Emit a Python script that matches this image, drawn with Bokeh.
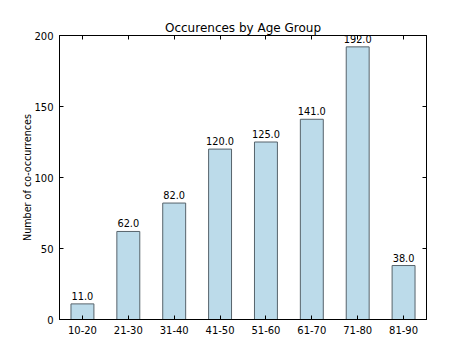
from bokeh.plotting import figure
from bokeh.models import ColumnDataSource, FactorRange, Range1d, LinearAxis, CategoricalAxis, FixedTicker
from bokeh.core.properties import value
from bokeh.embed import file_html
from bokeh.resources import INLINE

age_groups = ["10-20", "21-30", "31-40", "41-50", "51-60", "61-70", "71-80", "81-90"]
counts = [11, 62, 82, 120, 125, 141, 192, 38]
y_ticks = [0, 50, 100, 150, 200]

FONT = "DejaVu Sans"

src = ColumnDataSource(dict(x=age_groups, y=counts, lab=["%.1f" % c for c in counts]))

p = figure(width=474, height=355, x_range=FactorRange(*age_groups, range_padding=0),
           y_range=Range1d(0, 200), output_backend="svg", toolbar_location=None,
           min_border_left=59, min_border_right=48, min_border_top=35, min_border_bottom=36)

p.title.text = "Occurences by Age Group"
p.title.align = "center"
p.title.text_font = FONT
p.title.text_font_size = "12px"
p.title.text_font_style = "normal"
p.title.text_color = "black"
p.title.standoff = 2

p.vbar(x="x", top="y", width=0.5, source=src, fill_color="#bcdbea",
       line_color="#56636b", line_width=1)
p.text(x="x", y="y", text="lab", source=src, text_align="center", text_baseline="bottom",
       y_offset=-4, text_font=value(FONT), text_font_size="9.8px", text_color="black")

p.xgrid.visible = False
p.ygrid.visible = False
p.outline_line_color = "black"
p.outline_line_width = 1
p.background_fill_color = "white"
p.border_fill_color = "white"

def style(ax, labels=True):
    ax.major_tick_in = 4
    ax.major_tick_out = 0
    ax.minor_tick_in = 0
    ax.minor_tick_out = 0
    ax.axis_line_color = "black"
    ax.major_tick_line_color = "black"
    ax.major_label_text_font = FONT
    ax.major_label_text_font_size = "10px"
    ax.major_label_text_color = "black"
    ax.major_label_standoff = 6
    if not labels:
        ax.major_label_text_font_size = "0px"
        ax.major_label_text_alpha = 0

yax = p.yaxis[0]
yax.ticker = FixedTicker(ticks=y_ticks)
style(yax)
yax.axis_label = "Number of co-occurrences"
yax.axis_label_text_font = FONT
yax.axis_label_text_font_size = "9.6px"
yax.axis_label_text_font_style = "normal"
yax.axis_label_text_color = "black"
yax.axis_label_standoff = -2

xax = p.xaxis[0]
style(xax)
xax.major_label_standoff = 6

rax = LinearAxis(ticker=FixedTicker(ticks=y_ticks))
style(rax, labels=False)
p.add_layout(rax, "right")

tax = CategoricalAxis()
style(tax, labels=False)
p.add_layout(tax, "above")

open("out.html", "w").write(file_html(p, INLINE))
